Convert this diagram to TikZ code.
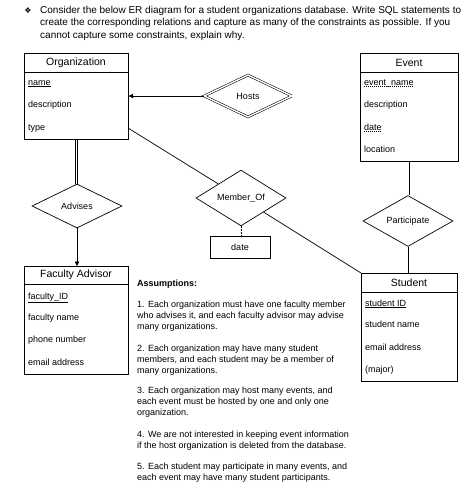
\documentclass[tikz,border=0pt]{standalone}
\usepackage{fontspec}
\setmainfont{Liberation Sans}
\newfontfamily\symfont{DejaVu Sans}
\usetikzlibrary{shapes.geometric,arrows.meta,calc}
\begin{document}
\begin{tikzpicture}[x=1pt,y=-1pt,
  ent/.style={draw,line width=0.7pt,anchor=north west,inner sep=0pt},
  ttl/.style={font=\fontsize{10.5}{12}\selectfont,inner sep=0pt},
  attr/.style={font=\fontsize{9}{11}\selectfont,anchor=base west,inner sep=0pt},
  rel/.style={draw,line width=0.7pt,shape=diamond,inner sep=0pt,font=\fontsize{9}{11}\selectfont},
  conn/.style={line width=0.7pt},
  dbl/.style={double,double distance=1.6pt,line width=0.55pt},
  tip/.style={-{Triangle[width=4.5pt,length=4.5pt]}},
  txt/.style={font=\fontsize{9}{11}\selectfont,anchor=north west,inner sep=0pt,align=left},
  hdr/.style={font=\fontsize{10}{12.5}\selectfont,anchor=north west,inner sep=0pt,align=left}
]
\useasboundingbox (0,0) rectangle (474,488);
\fill[white] (0,0) rectangle (474,488);

% header
\node[inner sep=0pt,font=\symfont\fontsize{8}{10}\selectfont] (bul) at (28,11) {❖};
\node[hdr] (head) at (40,6) {Consider the below ER diagram for a student organizations database. Write SQL statements to\\create the corresponding relations and capture as many of the constraints as possible. If you\\cannot capture some constraints, explain why.};

% Organization
\node[ent,minimum width=104pt,minimum height=86pt] (org) at (24,53) {};
\draw[conn] (24,72) -- (128,72);
\node[ttl] (orgt) at (76,62.5) {Organization};
\node[attr] (orgA) at (28,85) {\underline{name}};
\node[attr] (orgB) at (28,107) {description};
\node[attr] (orgC) at (28,130) {type};

% Event
\node[ent,minimum width=98pt,minimum height=108pt] (event) at (360,53) {};
\draw[conn] (360,72) -- (458,72);
\node[ttl] (evt) at (409,62.5) {Event};
\node[attr] (evA) at (364,85) {event\_name};
\draw[dashed,line width=0.5pt,dash pattern=on 1.2pt off 0.8pt] ($(evA.base west)+(0,1.6)$) -- ($(evA.base east)+(0,1.6)$);
\node[attr] (evB) at (364,107) {description};
\node[attr] (evC) at (364,130) {date};
\draw[dashed,line width=0.5pt,dash pattern=on 1.2pt off 0.8pt] ($(evC.base west)+(0,1.6)$) -- ($(evC.base east)+(0,1.6)$);
\node[attr] (evD) at (364,152) {location};

% Faculty Advisor
\node[ent,minimum width=104pt,minimum height=108pt] (fac) at (24,266) {};
\draw[conn] (24,284) -- (128,284);
\node[ttl] (fact) at (76,275) {Faculty Advisor};
\node[attr] (faA) at (28,299) {\underline{faculty\_ID}};
\node[attr] (faB) at (28,320) {faculty name};
\node[attr] (faC) at (28,342) {phone number};
\node[attr] (faD) at (28,365) {email address};

% Student
\node[ent,minimum width=96pt,minimum height=108pt] (stu) at (361,273) {};
\draw[conn] (361,292) -- (457,292);
\node[ttl] (stut) at (409,282.5) {Student};
\node[attr] (stA) at (365,306) {\underline{student ID}};
\node[attr] (stB) at (365,327) {student name};
\node[attr] (stC) at (365,350) {email address};
\node[attr] (stD) at (365,372) {(major)};

% date attribute
\node[ent,minimum width=60pt,minimum height=22pt] (date) at (210,236) {};
\node[attr,anchor=center] (datet) at (240,247) {date};

% relationships
\node[rel,double,double distance=1.4pt,line width=0.55pt,minimum width=88pt,minimum height=42pt] (hosts) at (248,96) {Hosts};
\node[rel,minimum width=90pt,minimum height=45pt] (mem) at (241,198) {Member\_Of};
\node[rel,minimum width=90pt,minimum height=44pt] (adv) at (77,206) {Advises};
\node[rel,minimum width=90pt,minimum height=44pt] (part) at (408,221) {Participate};

% connectors
\draw[conn,tip] (hosts.west) -- (hosts.west -| org.east);
\draw[dbl] (hosts.east) -- (hosts.east -| event.west);
\coordinate (orgm) at (128,128);
\draw[conn] (orgm) -- (mem);
\draw[conn] (mem) -- (stu.north west);
\draw[conn,dashed,dash pattern=on 1.5pt off 1.5pt] (mem.south) -- (date.north -| mem.south);
\draw[dbl] (adv.north -| org.south) -- (org.south);
\draw[conn,tip] (adv.south) -- (adv.south |- fac.north);
\draw[conn] (part.north -| event.south) -- (event.south);
\draw[conn] (part.south) -- (part.south |- stu.north);

% assumptions
\node[txt,font=\bfseries\fontsize{9}{11}\selectfont] (asm) at (137,280) {Assumptions:};
\node[txt] (a1) at (137,301) {1. Each organization must have one faculty member\\who advises it, and each faculty advisor may advise\\many organizations.};
\node[txt] (a2) at (137,345) {2. Each organization may have many student\\members, and each student may be a member of\\many organizations.};
\node[txt] (a3) at (137,387) {3. Each organization may host many events, and\\each event must be hosted by one and only one\\organization.};
\node[txt] (a4) at (137,431) {4. We are not interested in keeping event information\\if the host organization is deleted from the database.};
\node[txt] (a5) at (137,463) {5. Each student may participate in many events, and\\each event may have many student participants.};
\end{tikzpicture}
\end{document}
